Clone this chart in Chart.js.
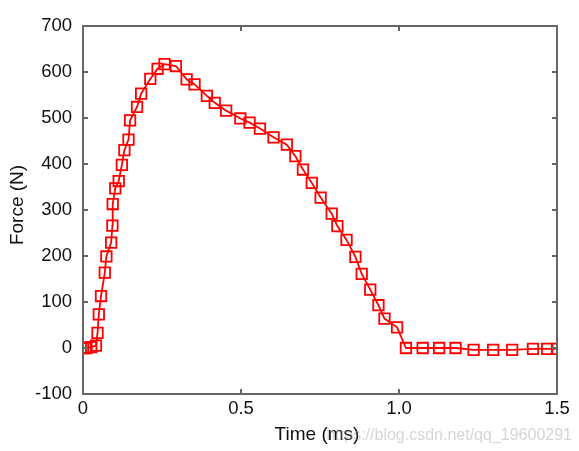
<!DOCTYPE html>
<html>
<head>
<meta charset="utf-8">
<script src="https://cdn.jsdelivr.net/npm/chart.js@4"></script>
<style>
  html, body { margin: 0; padding: 0; background: #ffffff; }
  #wrap { width: 579px; height: 451px; position: relative; }
</style>
</head>
<body>
<div id="wrap"><canvas id="c"></canvas></div>
<script>
// Time (ms) and force (N)
const timeMs = [0, 0.011, 0.026, 0.041, 0.046, 0.050, 0.057, 0.069, 0.074, 0.089,
  0.093, 0.094, 0.102, 0.113, 0.123, 0.131, 0.144, 0.149, 0.171, 0.184,
  0.213, 0.236, 0.258, 0.294, 0.328, 0.353, 0.392, 0.417, 0.453, 0.498,
  0.527, 0.560, 0.603, 0.645, 0.672, 0.696, 0.724, 0.752, 0.787, 0.805,
  0.834, 0.862, 0.882, 0.909, 0.935, 0.954, 0.994, 1.022, 1.075, 1.127,
  1.179, 1.236, 1.298, 1.358, 1.424, 1.469, 1.500];
const forceN = [0, 0, 2, 5, 33, 73, 113, 164, 199, 229,
  266, 313, 347, 363, 398, 430, 453, 495, 524, 553,
  585, 607, 617, 613, 584, 573, 548, 533, 516, 499,
  490, 477, 458, 442, 417, 388, 359, 327, 292, 265,
  235, 198, 161, 127, 93, 64, 45, 0, 0, 0,
  0, -4, -4, -4, -2, -2, -2];
const xTickLabels = ['0', '0.5', '1.0', '1.5'];
const xTickValues = [0, 0.5, 1.0, 1.5];
const xTitle = 'Time (ms)';
const yTitle = 'Force (N)';
const watermark = 'https://blog.csdn.net/qq_19600291';

const points = timeMs.map((t, i) => ({ x: t, y: forceN[i] }));
const FONT = 'Liberation Sans, Arial, Helvetica, sans-serif';
const AXIS_COLOR = '#666666';

const frameTicks = {
  id: 'frameTicks',
  afterDraw(chart) {
    const { ctx, chartArea: a, scales } = chart;
    ctx.save();
    ctx.strokeStyle = AXIS_COLOR;
    ctx.lineWidth = 2;
    ctx.strokeRect(a.left, a.top, a.right - a.left, a.bottom - a.top);
    const L = 5;
    ctx.beginPath();
    scales.x.ticks.forEach(t => {
      const px = scales.x.getPixelForValue(t.value);
      ctx.moveTo(px, a.bottom); ctx.lineTo(px, a.bottom - L);
      ctx.moveTo(px, a.top); ctx.lineTo(px, a.top + L);
    });
    scales.y.ticks.forEach(t => {
      const py = scales.y.getPixelForValue(t.value);
      ctx.moveTo(a.left, py); ctx.lineTo(a.left + L, py);
      ctx.moveTo(a.right, py); ctx.lineTo(a.right - L, py);
    });
    ctx.stroke();
    // axis titles
    ctx.fillStyle = '#111';
    ctx.font = '19px ' + FONT;
    ctx.textAlign = 'center';
    ctx.textBaseline = 'middle';
    ctx.fillText(xTitle, 317, 435);
    ctx.save();
    ctx.translate(18, 205);
    ctx.rotate(-Math.PI / 2);
    ctx.fillText(yTitle, 0, 0);
    ctx.restore();
    // watermark
    ctx.font = '16px ' + FONT;
    ctx.fillStyle = 'rgba(150,150,150,0.4)';
    ctx.textAlign = 'right';
    ctx.fillText(watermark, 572, 436);
    ctx.restore();
  }
};

new Chart(document.getElementById('c'), {
  type: 'scatter',
  data: {
    datasets: [{
      data: points,
      showLine: true,
      borderColor: '#ff0000',
      borderWidth: 1.8,
      backgroundColor: 'rgba(0,0,0,0)',
      pointStyle: 'rect',
      pointRadius: 7.4,
      pointBorderWidth: 1.8,
      pointBorderColor: '#ff0000',
      pointBackgroundColor: 'rgba(0,0,0,0)',
      tension: 0
    }]
  },
  options: {
    responsive: true,
    maintainAspectRatio: false,
    animation: false,
    layout: { padding: { left: 0, right: 22, top: 26, bottom: 0 } },
    plugins: { legend: { display: false }, tooltip: { enabled: false } },
    scales: {
      x: {
        type: 'linear', min: 0, max: 1.5,
        afterBuildTicks(scale) { scale.ticks = xTickValues.map(v => ({ value: v })); },
        afterFit(scale) { scale.height = 57; },
        grid: { display: false, drawTicks: false },
        border: { display: false },
        ticks: {
          padding: 4, color: '#111', font: { family: FONT, size: 18.5 },
          callback: (v) => { const i = xTickValues.indexOf(v); return i >= 0 ? xTickLabels[i] : ''; }
        },
        title: { display: false }
      },
      y: {
        type: 'linear', min: -100, max: 700,
        afterFit(scale) { scale.width = 83; },
        grid: { display: false, drawTicks: false },
        border: { display: false },
        ticks: { stepSize: 100, padding: 11, color: '#111', font: { family: FONT, size: 18.5 } },
        title: { display: false }
      }
    }
  },
  plugins: [frameTicks]
});
</script>
</body>
</html>
